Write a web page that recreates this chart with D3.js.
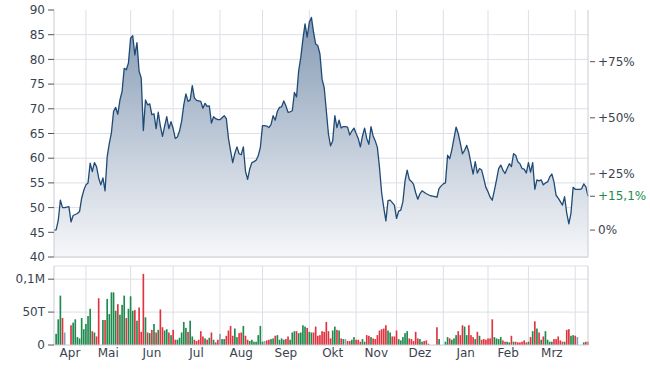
<!DOCTYPE html>
<html>
<head>
<meta charset="utf-8">
<script src="https://cdn.jsdelivr.net/npm/d3@7"></script>
<style>
body { margin: 0; background: #fff; }
text { font-family: "DejaVu Sans", sans-serif; font-size: 12px; fill: #3b4350; }
</style>
</head>
<body>
<svg id="chart"></svg>
<script>
// Schlusskurse je Handelstag
var kurse = [
45.45,45.5,47.4,51.5,50.0,50.0,50.1,50.2,47.1,48.4,48.6,48.8,49.2,51.9,53.5,54.6,55.0,59.0,57.3,59.1,
58.3,56.0,54.6,56.0,53.4,60.3,63.0,65.2,69.5,70.3,68.9,71.8,73.5,78.2,77.9,79.3,84.3,84.8,80.9,83.4,
77.6,76.2,65.6,71.8,70.8,71.0,68.8,69.0,66.0,69.3,66.5,64.4,66.5,68.4,66.0,67.4,66.0,64.0,64.3,65.5,
67.5,70.8,73.0,71.5,71.8,74.7,72.2,71.7,71.6,71.5,70.1,71.1,70.5,70.6,67.1,68.4,68.0,67.8,67.8,68.2,
68.6,68.0,64.0,61.5,59.1,61.0,62.3,60.9,60.7,62.3,57.4,55.7,57.8,59.1,59.3,59.6,60.5,62.2,66.6,66.6,
66.5,66.2,66.8,68.6,67.7,69.5,70.3,70.4,71.6,70.6,69.3,69.4,69.6,73.3,72.4,77.7,80.4,84.1,87.2,84.5,
87.5,88.5,85.5,83.1,82.8,81.1,76.0,74.3,69.6,64.9,62.5,63.5,68.6,66.2,67.7,66.1,66.4,66.4,66.3,64.7,
65.5,66.1,65.0,64.0,62.3,64.5,66.1,64.0,62.8,66.4,64.5,63.5,62.2,58.1,53.0,50.0,47.3,51.4,51.5,51.0,
50.5,47.8,49.3,49.5,51.2,55.4,57.6,55.7,55.3,54.7,53.0,51.7,52.8,53.4,53.1,52.8,52.6,52.4,52.3,52.2,
52.1,53.9,54.4,54.8,55.0,60.6,59.9,61.7,64.0,66.3,65.0,63.0,60.9,61.6,62.6,61.2,58.9,56.8,59.3,57.0,
57.9,57.6,55.9,54.1,53.2,52.1,51.5,53.5,55.6,57.9,58.6,57.6,56.9,57.9,58.9,58.3,60.9,60.6,59.3,58.9,
57.9,57.8,57.0,59.1,57.2,59.1,53.7,55.6,55.4,55.6,54.6,55.0,55.2,56.2,56.8,55.2,52.5,51.9,51.2,50.5,
52.2,48.9,46.7,48.9,54.1,53.7,53.7,53.7,53.8,54.8,54.2,52.3
];

// Umsatz je Handelstag in Tausend Stueck
var umsatz = [
0,17,39,75,41,19,0,0,30,34,39,12,10,41,24,32,44,55,21,19,
13,71,0,38,38,70,47,80,80,52,62,46,61,75,41,55,74,52,53,37,
57,20,108,42,19,18,23,32,19,23,54,27,22,24,19,15,23,8,8,11,
19,35,26,20,37,13,8,6,8,21,13,10,8,11,19,8,4,8,17,9,
9,14,22,29,14,25,12,18,19,29,14,8,6,8,5,5,15,29,5,6,
7,8,9,10,14,15,8,10,8,9,13,8,19,21,21,18,19,30,28,26,
20,19,19,28,14,15,21,20,35,21,10,22,28,23,22,10,9,9,6,6,
8,12,8,8,5,9,5,15,14,12,10,9,15,22,24,25,30,22,19,13,
13,22,9,7,12,18,21,10,9,6,20,10,9,5,6,7,2,0,0,0,
27,9,0,0,5,12,10,8,10,15,21,15,30,28,15,30,15,12,9,20,
14,8,9,8,10,10,39,12,10,9,12,7,5,5,4,14,5,5,4,4,
5,7,4,5,12,21,36,25,19,8,13,21,8,5,5,9,9,13,7,5,
5,23,24,14,15,14,12,0,0,4,5,5
];

var monate = ["Apr","Mai","Jun","Jul","Aug","Sep","Okt","Nov","Dez","Jan","Feb","Mrz"];
var monatsStart = [0,15,36,56,78,98,120,142,161,183,204,223,245]; // Index des ersten Handelstags
var kursTicks = [40,45,50,55,60,65,70,75,80,85,90];
var umsatzTicks = [0,50,100];
var umsatzLabels = ["0","50T","0,1M"];
var prozentTicks = [0,25,50,75];

var w = 650, h = 370;
var links = 54, rechts = 588;

var svg = d3.select("#chart").attr("width", w).attr("height", h);

var x = d3.scaleLinear().domain([0, kurse.length - 1]).range([links, rechts]);
var y = d3.scaleLinear().domain([40, 90]).range([257, 10]);
var yv = d3.scaleLinear().domain([0, 120]).range([345, 266]);

var gitter = "#dcdfe6";

// Verlauf fuer die Flaeche
var grad = svg.append("defs").append("linearGradient")
	.attr("id", "flaeche")
	.attr("gradientUnits", "userSpaceOnUse")
	.attr("x1", 0).attr("y1", y(90)).attr("x2", 0).attr("y2", y(40));
grad.append("stop").attr("offset", "0%").attr("stop-color", "#8298b3");
grad.append("stop").attr("offset", "100%").attr("stop-color", "#f6f7f9");

// horizontale Gitterlinien Kurs
svg.append("g").selectAll("line")
	.data(kursTicks.filter(function(d){ return d < 90; }))
	.enter().append("line")
	.attr("x1", links).attr("x2", rechts)
	.attr("y1", function(d){ return y(d); })
	.attr("y2", function(d){ return y(d); })
	.attr("stroke", gitter);

// horizontale Gitterlinien Umsatz
svg.append("g").selectAll("line")
	.data(umsatzTicks.slice(1).concat([120]))
	.enter().append("line")
	.attr("x1", links).attr("x2", rechts)
	.attr("y1", function(d){ return yv(d); })
	.attr("y2", function(d){ return yv(d); })
	.attr("stroke", gitter);

// vertikale Gitterlinien an Monatsanfaengen
var starts = monatsStart.slice(1);
svg.append("g").selectAll("line")
	.data(starts)
	.enter().append("line")
	.attr("x1", function(d){ return x(d); })
	.attr("x2", function(d){ return x(d); })
	.attr("y1", y(90)).attr("y2", y(40))
	.attr("stroke", gitter);
svg.append("g").selectAll("line")
	.data(starts)
	.enter().append("line")
	.attr("x1", function(d){ return x(d); })
	.attr("x2", function(d){ return x(d); })
	.attr("y1", yv(120)).attr("y2", yv(0))
	.attr("stroke", gitter);

// Flaeche und Linie
var area = d3.area()
	.x(function(d, i){ return x(i); })
	.y0(y(40))
	.y1(function(d){ return y(d); });
var line = d3.line()
	.x(function(d, i){ return x(i); })
	.y(function(d){ return y(d); });

svg.append("path").datum(kurse).attr("d", area).attr("fill", "url(#flaeche)");
svg.append("path").datum(kurse).attr("d", line)
	.attr("fill", "none").attr("stroke", "#1f4a76").attr("stroke-width", 1.3)
	.attr("stroke-linejoin", "round");

// Umsatzbalken, Farbe nach Kursveraenderung
var bw = (x(1) - x(0)) * 0.78;
svg.append("g").selectAll("rect")
	.data(umsatz)
	.enter().append("rect")
	.attr("x", function(d, i){ return x(i) - bw / 2; })
	.attr("width", bw)
	.attr("y", function(d){ return yv(d); })
	.attr("height", function(d){ return yv(0) - yv(d); })
	.attr("fill", function(d, i){
		if (i == 0) return "#1e8a4e";
		if (kurse[i] > kurse[i-1]) return "#1e8a4e";
		if (kurse[i] < kurse[i-1]) return "#e0333f";
		return "#8e9bb0";
	});

// Rahmen
var rahmen = "#c9ccd3";
svg.append("line").attr("x1", links).attr("x2", links).attr("y1", y(90)).attr("y2", y(40)).attr("stroke", rahmen);
svg.append("line").attr("x1", rechts).attr("x2", rechts).attr("y1", y(90)).attr("y2", y(40)).attr("stroke", rahmen);
svg.append("line").attr("x1", links).attr("x2", rechts).attr("y1", y(40)).attr("y2", y(40)).attr("stroke", rahmen);
svg.append("line").attr("x1", links).attr("x2", links).attr("y1", yv(120)).attr("y2", yv(0)).attr("stroke", rahmen);
svg.append("line").attr("x1", rechts).attr("x2", rechts).attr("y1", yv(120)).attr("y2", yv(0)).attr("stroke", rahmen);
svg.append("line").attr("x1", links).attr("x2", rechts).attr("y1", yv(0)).attr("y2", yv(0)).attr("stroke", rahmen);

// linke Achse Kurs
var kAchse = svg.append("g");
kAchse.selectAll("line").data(kursTicks).enter().append("line")
	.attr("x1", links - 6).attr("x2", links)
	.attr("y1", function(d){ return y(d); }).attr("y2", function(d){ return y(d); })
	.attr("stroke", "#555");
kAchse.selectAll("text").data(kursTicks).enter().append("text")
	.attr("x", links - 9)
	.attr("y", function(d){ return y(d); })
	.attr("dy", "0.35em")
	.attr("text-anchor", "end")
	.text(function(d){ return d; });

// linke Achse Umsatz
var vAchse = svg.append("g");
vAchse.selectAll("line").data(umsatzTicks).enter().append("line")
	.attr("x1", links - 6).attr("x2", links)
	.attr("y1", function(d){ return yv(d); }).attr("y2", function(d){ return yv(d); })
	.attr("stroke", "#555");
vAchse.selectAll("text").data(umsatzTicks).enter().append("text")
	.attr("x", links - 9)
	.attr("y", function(d){ return yv(d); })
	.attr("dy", "0.35em")
	.attr("text-anchor", "end")
	.text(function(d, i){ return umsatzLabels[i]; });

// rechte Achse in Prozent zum Startkurs
var basis = kurse[0];
var letzter = kurse[kurse.length - 1];
var pAchse = svg.append("g");
pAchse.selectAll("line").data(prozentTicks).enter().append("line")
	.attr("x1", rechts + 2).attr("x2", rechts + 7)
	.attr("y1", function(d){ return y(basis * (1 + d / 100)); })
	.attr("y2", function(d){ return y(basis * (1 + d / 100)); })
	.attr("stroke", "#555");
pAchse.selectAll("text").data(prozentTicks).enter().append("text")
	.attr("x", rechts + 10)
	.attr("y", function(d){ return y(basis * (1 + d / 100)); })
	.attr("dy", "0.35em")
	.text(function(d){ return (d > 0 ? "+" : "") + d + "%"; });

// aktueller Stand
var aktuell = (letzter / basis - 1) * 100;
svg.append("line")
	.attr("x1", rechts + 2).attr("x2", rechts + 7)
	.attr("y1", y(letzter)).attr("y2", y(letzter))
	.attr("stroke", "#555");
svg.append("text")
	.attr("x", rechts + 10)
	.attr("y", y(letzter))
	.attr("dy", "0.35em")
	.style("fill", "#1e8a4e")
	.text((aktuell >= 0 ? "+" : "") + d3.format(".1f")(aktuell).replace(".", ",") + "%");

// Monatsbeschriftung in der Mitte des Monats
svg.append("g").selectAll("text")
	.data(monate)
	.enter().append("text")
	.attr("x", function(d, i){ return x((monatsStart[i] + monatsStart[i+1]) / 2); })
	.attr("y", 357)
	.attr("text-anchor", "middle")
	.text(function(d){ return d; });
</script>
</body>
</html>
